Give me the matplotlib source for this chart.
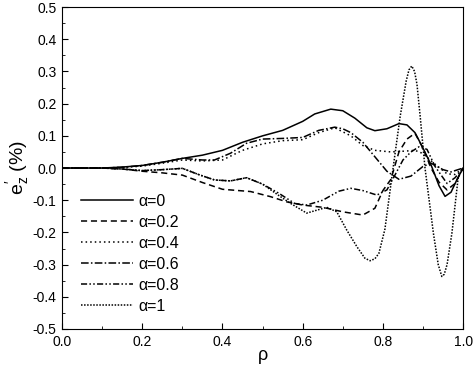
import numpy as np
import matplotlib
matplotlib.use("Agg")
import matplotlib.pyplot as plt
from matplotlib.ticker import MultipleLocator, FormatStrFormatter

plt.rcParams['font.family'] = ['Liberation Sans', 'DejaVu Sans']
plt.rcParams['mathtext.fontset'] = 'custom'
plt.rcParams['mathtext.rm'] = 'Liberation Sans'
plt.rcParams['mathtext.it'] = 'Liberation Sans'

# values, one (rho, e'z) pair list per alpha
rho_a0 = [0, 0.1, 0.15, 0.2, 0.25, 0.3, 0.35, 0.4, 0.45, 0.5, 0.55, 0.6, 0.63, 0.67, 0.7,
          0.73, 0.76, 0.78, 0.81, 0.84, 0.86, 0.88, 0.9, 0.92, 0.94, 0.955, 0.97, 0.985, 1.0]
ez_a0 = [0, 0, 0.003, 0.008, 0.018, 0.03, 0.04, 0.055, 0.08, 0.1, 0.117, 0.145, 0.168, 0.183, 0.178,
         0.155, 0.125, 0.116, 0.122, 0.138, 0.134, 0.11, 0.062, 0.01, -0.055, -0.088, -0.075, -0.035, 0]

rho_a02 = [0, 0.1, 0.15, 0.2, 0.25, 0.3, 0.35, 0.4, 0.47, 0.52, 0.56, 0.6, 0.65, 0.7, 0.75,
           0.78, 0.8, 0.82, 0.84, 0.86, 0.88, 0.9, 0.92, 0.94, 0.96, 0.98, 1.0]
ez_a02 = [0, 0, -0.003, -0.01, -0.015, -0.022, -0.045, -0.066, -0.073, -0.089, -0.105, -0.115, -0.122,
          -0.136, -0.146, -0.125, -0.07, -0.035, 0.05, 0.09, 0.108, 0.062, 0.0, -0.044, -0.068, -0.048, 0]

rho_a04 = [0, 0.1, 0.15, 0.2, 0.25, 0.3, 0.35, 0.4, 0.45, 0.5, 0.55, 0.6, 0.64, 0.68, 0.72,
           0.75, 0.78, 0.82, 0.86, 0.88, 0.9, 0.93, 0.96, 0.98, 1.0]
ez_a04 = [0, 0, 0.002, 0.006, 0.015, 0.025, 0.022, 0.025, 0.055, 0.075, 0.085, 0.088, 0.11, 0.125, 0.1,
          0.07, 0.055, 0.05, 0.053, 0.055, 0.045, 0.012, -0.018, -0.02, 0]

rho_a06 = [0, 0.1, 0.15, 0.2, 0.25, 0.3, 0.35, 0.38, 0.42, 0.46, 0.5, 0.55, 0.6, 0.64, 0.68,
           0.7, 0.72, 0.75, 0.78, 0.81, 0.84, 0.87, 0.9, 0.92, 0.95, 0.97, 1.0]
ez_a06 = [0, 0, 0.002, 0.008, 0.018, 0.03, 0.025, 0.025, 0.046, 0.077, 0.09, 0.092, 0.095, 0.117, 0.127,
          0.122, 0.11, 0.08, 0.035, -0.01, -0.035, -0.025, 0.005, 0.015, -0.005, -0.012, 0]

rho_a08 = [0, 0.1, 0.15, 0.2, 0.25, 0.3, 0.34, 0.38, 0.42, 0.46, 0.5, 0.54, 0.58, 0.61, 0.65,
           0.69, 0.72, 0.75, 0.785, 0.81, 0.83, 0.85, 0.87, 0.89, 0.91, 0.93, 0.96, 0.98, 1.0]
ez_a08 = [0, 0, -0.003, -0.008, -0.005, -0.001, -0.02, -0.037, -0.04, -0.03, -0.05, -0.078, -0.11, -0.115,
          -0.1, -0.072, -0.063, -0.07, -0.084, -0.068, -0.022, 0.025, 0.05, 0.066, 0.058, 0.005, -0.048, -0.03, 0]

rho_a1 = [0, 0.1, 0.15, 0.2, 0.25, 0.3, 0.34, 0.38, 0.42, 0.46, 0.5, 0.54, 0.57, 0.61, 0.66,
          0.685, 0.71, 0.735, 0.755, 0.768, 0.78, 0.79, 0.805, 0.82, 0.832, 0.843, 0.858, 0.865,
          0.872, 0.879, 0.885, 0.893, 0.905, 0.926, 0.938, 0.947, 0.953, 0.96, 0.972, 0.988, 1.0]
ez_a1 = [0, 0, -0.003, -0.008, -0.005, -0.001, -0.02, -0.037, -0.04, -0.03, -0.05, -0.085, -0.11,
         -0.14, -0.122, -0.136, -0.193, -0.244, -0.28, -0.288, -0.282, -0.265, -0.19, -0.05, 0.06,
         0.16, 0.27, 0.305, 0.317, 0.3, 0.26, 0.16, 0.0, -0.203, -0.3, -0.337, -0.33, -0.3, -0.203,
         -0.027, 0]

series = [
    (rho_a0, ez_a0, 'α=0', '-'),
    (rho_a02, ez_a02, 'α=0.2', (0, (4, 2.5))),
    (rho_a04, ez_a04, 'α=0.4', (0, (1, 2))),
    (rho_a06, ez_a06, 'α=0.6', (0, (5, 1.5, 1, 1.5))),
    (rho_a08, ez_a08, 'α=0.8', (0, (4, 1.5, 1, 1.5, 1, 1.5))),
    (rho_a1, ez_a1, 'α=1', (0, (1, 1))),
]

fig = plt.figure(figsize=(4.74, 3.73), dpi=100)
ax = fig.add_axes([0.131, 0.118, 0.846, 0.863])

for x, y, lab, ls in series:
    ax.plot(x, y, color='black', lw=1.1, linestyle=ls, label=lab)

ax.set_xlim(0, 1)
ax.set_ylim(-0.5, 0.5)
ax.xaxis.set_major_locator(MultipleLocator(0.2))
ax.xaxis.set_minor_locator(MultipleLocator(0.1))
ax.yaxis.set_major_locator(MultipleLocator(0.1))
ax.yaxis.set_minor_locator(MultipleLocator(0.05))
ax.xaxis.set_major_formatter(FormatStrFormatter('%.1f'))
ax.yaxis.set_major_formatter(FormatStrFormatter('%.1f'))
ax.tick_params(which='both', direction='in', top=False, right=False, labelsize=10, pad=4)
ax.tick_params(which='major', length=4)
ax.tick_params(which='minor', length=2.5)

ax.set_xlabel('ρ', fontsize=13, labelpad=-1)
ax.set_ylabel(r'$\mathregular{e_z^{\prime}}$ (%)', fontsize=14, labelpad=1)

ax.legend(loc='lower left', bbox_to_anchor=(0.03, 0.027), frameon=False, fontsize=11.5,
          handlelength=3.3, handletextpad=0.3, labelspacing=0.38, borderaxespad=0)

fig.savefig('out.png', dpi=100)
